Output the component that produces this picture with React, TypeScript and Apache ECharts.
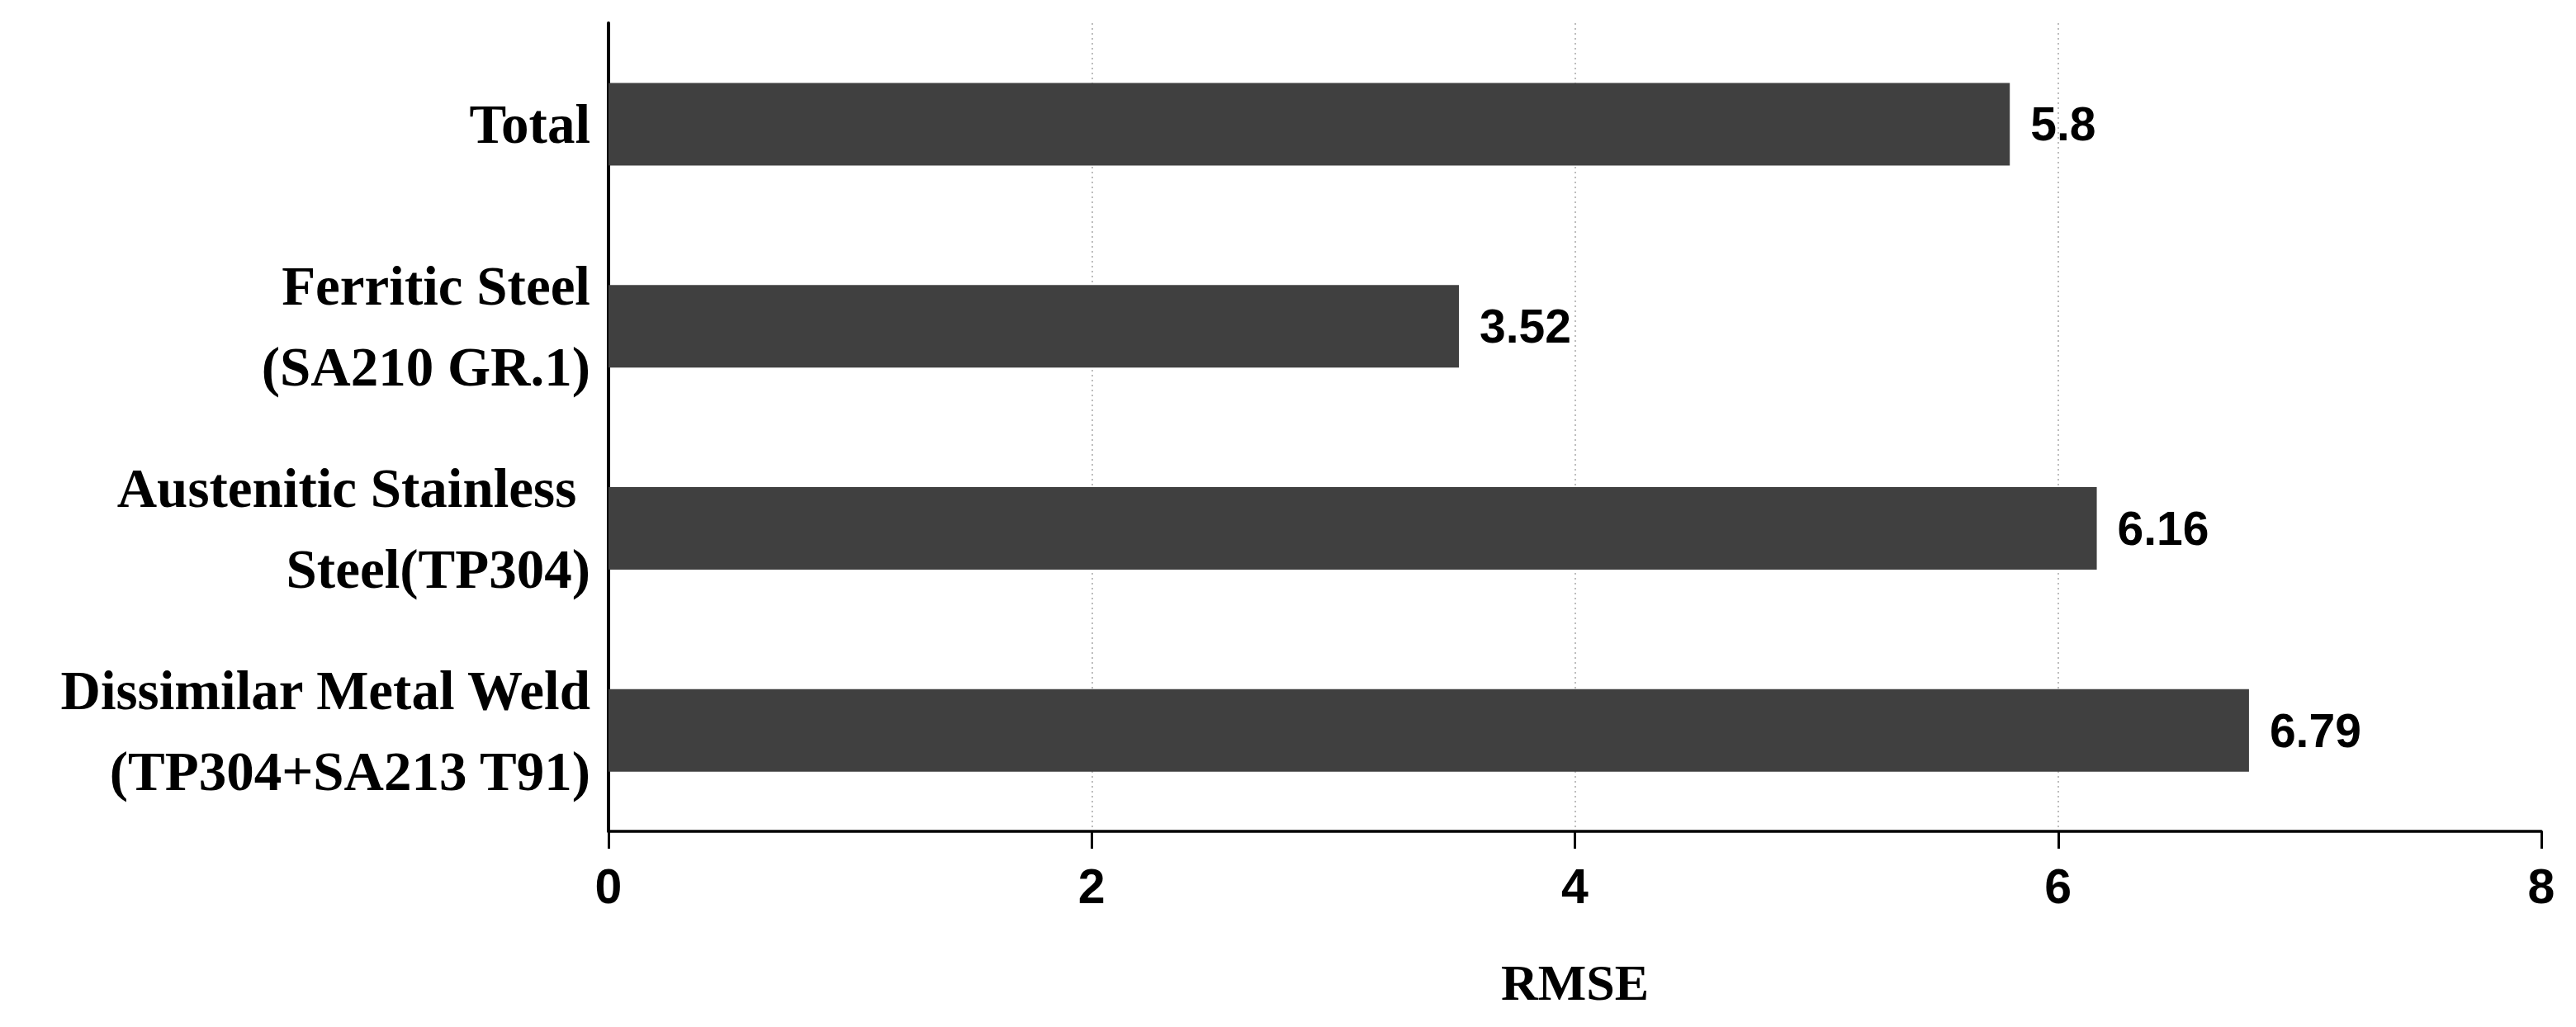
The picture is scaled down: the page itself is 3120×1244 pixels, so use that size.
import React, { useEffect, useRef } from "react";
import * as echarts from "echarts";

const categories = [
  "Total",
  "Ferritic Steel\n(SA210 GR.1)",
  "Austenitic Stainless \nSteel(TP304)",
  "Dissimilar Metal Weld\n(TP304+SA213 T91)",
];
const rmseValues = [5.8, 3.52, 6.16, 6.79];
const axisMin = 0;
const axisMax = 8;
const axisStep = 2;

export default function App() {
  const ref = useRef<HTMLDivElement>(null);
  useEffect(() => {
    if (!ref.current) return;
    const chart = echarts.init(ref.current, undefined, { renderer: "svg" });
    const sans = "'Liberation Sans', Arial, sans-serif";
    const serif = "'Liberation Serif', 'Times New Roman', serif";
    chart.setOption({
      animation: false,
      backgroundColor: "#ffffff",
      grid: { left: 737, right: 42, top: 28, bottom: 237, containLabel: false },
      xAxis: {
        type: "value",
        min: axisMin,
        max: axisMax,
        interval: axisStep,
        name: "RMSE",
        nameLocation: "middle",
        nameGap: 152,
        nameTextStyle: { fontFamily: serif, fontWeight: "bold", fontSize: 62, color: "#000" },
        axisLine: { show: true, lineStyle: { color: "#000", width: 3.5 } },
        axisTick: { show: true, length: 21, lineStyle: { color: "#000", width: 3 } },
        axisLabel: { fontFamily: sans, fontWeight: "bold", fontSize: 59, color: "#000", margin: 37 },
        splitLine: {
          show: true,
          lineStyle: {
            color: ["rgba(0,0,0,0)", "#bdbdbd", "#bdbdbd", "#bdbdbd", "rgba(0,0,0,0)"],
            type: [2, 4],
            width: 2,
          },
        },
      },
      yAxis: {
        type: "category",
        data: categories,
        inverse: true,
        axisLine: { show: true, lineStyle: { color: "#000", width: 4 } },
        axisTick: { show: false },
        axisLabel: {
          fontFamily: serif,
          fontWeight: "bold",
          fontSize: 67,
          lineHeight: 98,
          color: "#000",
          margin: 22,
          align: "right",
        },
        splitLine: { show: false },
      },
      series: [
        {
          type: "bar",
          data: rmseValues,
          barWidth: 100,
          itemStyle: { color: "#404040" },
          label: {
            show: true,
            position: "right",
            distance: 25,
            fontFamily: sans,
            fontWeight: "bold",
            fontSize: 57,
            color: "#000",
          },
        },
      ],
    });
    return () => chart.dispose();
  }, []);
  return (
    <div
      ref={ref}
      style={{ position: "absolute", left: 0, top: 0, width: 3120, height: 1244, background: "#fff" }}
    />
  );
}
